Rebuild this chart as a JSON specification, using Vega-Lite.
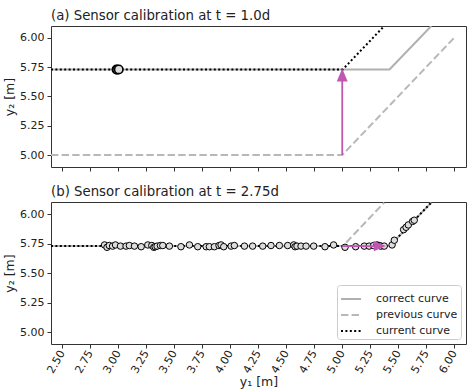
{
  "$schema": "https://vega.github.io/schema/vega-lite/v6.json",
  "padding": {"left": 3, "top": 8, "right": 9, "bottom": 0},
  "config": {
    "font": "DejaVu Sans",
    "view": {"stroke": "#333", "strokeWidth": 1},
    "axis": {"grid": false, "domain": false, "tickColor": "#333", "tickSize": 4, "labelPadding": 3, "labelFontSize": 11, "labelColor": "#222", "titleFontSize": 12.5, "titleFontWeight": "normal", "titleColor": "#222"},
    "title": {"fontSize": 13.3, "fontWeight": "normal", "anchor": "start", "frame": "group", "offset": 4, "color": "#222"},
    "concat": {"spacing": 12}
  },
  "resolve": {"scale": {"color": "independent", "strokeDash": "independent"}, "legend": {"color": "independent", "strokeDash": "independent"}},
  "datasets": {
    "curves_a": [
      {"curve": "correct curve", "o": 1, "x": 2.4, "y": 5.73},
      {"curve": "correct curve", "o": 2, "x": 5.422, "y": 5.73},
      {"curve": "correct curve", "o": 3, "x": 5.795, "y": 6.1},
      {"curve": "previous curve", "o": 1, "x": 2.4, "y": 5.0},
      {"curve": "previous curve", "o": 2, "x": 5.0, "y": 5.0},
      {"curve": "previous curve", "o": 3, "x": 6.0, "y": 6.0},
      {"curve": "current curve", "o": 1, "x": 2.4, "y": 5.73},
      {"curve": "current curve", "o": 2, "x": 5.005, "y": 5.73},
      {"curve": "current curve", "o": 3, "x": 5.375, "y": 6.1}
    ],
    "curves_b": [
      {"curve": "correct curve", "o": 1, "x": 2.4, "y": 5.73},
      {"curve": "correct curve", "o": 2, "x": 5.422, "y": 5.73},
      {"curve": "correct curve", "o": 3, "x": 5.795, "y": 6.1},
      {"curve": "previous curve", "o": 1, "x": 2.4, "y": 5.73},
      {"curve": "previous curve", "o": 2, "x": 5.005, "y": 5.73},
      {"curve": "previous curve", "o": 3, "x": 5.375, "y": 6.1},
      {"curve": "current curve", "o": 1, "x": 2.4, "y": 5.73},
      {"curve": "current curve", "o": 2, "x": 5.422, "y": 5.73},
      {"curve": "current curve", "o": 3, "x": 5.795, "y": 6.1}
    ],
    "pts_a": [
      {"x": 2.985, "y": 5.73},
      {"x": 2.99, "y": 5.728},
      {"x": 3.005, "y": 5.73}
    ],
    "pts_b": [
      {"x": 2.878, "y": 5.74}, {"x": 2.9, "y": 5.72}, {"x": 2.92, "y": 5.735}, {"x": 2.95, "y": 5.73},
      {"x": 2.976, "y": 5.74}, {"x": 3.02, "y": 5.73}, {"x": 3.07, "y": 5.73}, {"x": 3.1, "y": 5.735},
      {"x": 3.145, "y": 5.73}, {"x": 3.205, "y": 5.725}, {"x": 3.264, "y": 5.74}, {"x": 3.3, "y": 5.735},
      {"x": 3.318, "y": 5.72}, {"x": 3.33, "y": 5.725}, {"x": 3.347, "y": 5.73}, {"x": 3.377, "y": 5.735},
      {"x": 3.398, "y": 5.735}, {"x": 3.457, "y": 5.73}, {"x": 3.56, "y": 5.725}, {"x": 3.636, "y": 5.74},
      {"x": 3.71, "y": 5.725}, {"x": 3.785, "y": 5.725}, {"x": 3.814, "y": 5.725}, {"x": 3.859, "y": 5.725},
      {"x": 3.9, "y": 5.735}, {"x": 3.918, "y": 5.74}, {"x": 3.942, "y": 5.725}, {"x": 4.008, "y": 5.73},
      {"x": 4.037, "y": 5.735}, {"x": 4.127, "y": 5.73}, {"x": 4.2, "y": 5.73}, {"x": 4.29, "y": 5.73},
      {"x": 4.364, "y": 5.735}, {"x": 4.439, "y": 5.735}, {"x": 4.513, "y": 5.735}, {"x": 4.567, "y": 5.74},
      {"x": 4.579, "y": 5.725}, {"x": 4.596, "y": 5.73}, {"x": 4.632, "y": 5.73}, {"x": 4.677, "y": 5.73},
      {"x": 4.745, "y": 5.73}, {"x": 4.846, "y": 5.725}, {"x": 4.923, "y": 5.74}, {"x": 5.025, "y": 5.72},
      {"x": 5.12, "y": 5.725}, {"x": 5.197, "y": 5.73}, {"x": 5.24, "y": 5.73}, {"x": 5.28, "y": 5.735},
      {"x": 5.31, "y": 5.74}, {"x": 5.33, "y": 5.735}, {"x": 5.345, "y": 5.73}, {"x": 5.375, "y": 5.73},
      {"x": 5.445, "y": 5.74}, {"x": 5.465, "y": 5.78}, {"x": 5.548, "y": 5.87}, {"x": 5.57, "y": 5.89},
      {"x": 5.59, "y": 5.91}, {"x": 5.628, "y": 5.94}, {"x": 5.643, "y": 5.95}
    ],
    "arrow_a": [{"x": 5.0, "y": 5.0, "y2": 5.64}],
    "head_a": [{"x": 5.0, "y": 5.737}],
    "arrow_b": [{"x": 5.0, "x2": 5.32, "y": 5.73}],
    "head_b": [{"x": 5.39, "y": 5.73}]
  },
  "vconcat": [
    {
      "title": "(a) Sensor calibration at t = 1.0d",
      "width": 415,
      "height": 141,
      "encoding": {
        "x": {"field": "x", "type": "quantitative", "scale": {"domain": [2.4, 6.105], "zero": false, "nice": false}, "axis": {"values": [2.5, 2.75, 3, 3.25, 3.5, 3.75, 4, 4.25, 4.5, 4.75, 5, 5.25, 5.5, 5.75, 6], "labels": false, "title": null, "minExtent": 0}},
        "y": {"field": "y", "type": "quantitative", "scale": {"domain": [4.898, 6.1], "zero": false, "nice": false}, "axis": {"values": [5, 5.25, 5.5, 5.75, 6], "format": ".2f", "title": "y₂ [m]", "titlePadding": 3}}
      },
      "layer": [
        {"data": {"name": "curves_a"}, "transform": [{"filter": "datum.curve === 'correct curve'"}], "mark": {"type": "line", "color": "#b0b0b0", "strokeWidth": 2, "clip": true}, "encoding": {"order": {"field": "o"}}},
        {"data": {"name": "curves_a"}, "transform": [{"filter": "datum.curve === 'previous curve'"}], "mark": {"type": "line", "color": "#b8b8b8", "strokeWidth": 2, "strokeDash": [7.4, 3.2], "clip": true}, "encoding": {"order": {"field": "o"}}},
        {"data": {"name": "curves_a"}, "transform": [{"filter": "datum.curve === 'current curve'"}], "mark": {"type": "line", "color": "#000000", "strokeWidth": 2, "strokeDash": [2, 2.4], "clip": true}, "encoding": {"order": {"field": "o"}}},
        {"data": {"name": "pts_a"}, "mark": {"type": "circle", "fill": "#dddddd", "stroke": "#000", "strokeWidth": 1.6, "size": 70, "opacity": 1}},
        {"data": {"name": "arrow_a"}, "mark": {"type": "rule", "color": "#c157b3", "strokeWidth": 1.8}, "encoding": {"y2": {"field": "y2"}}},
        {"data": {"name": "head_a"}, "mark": {"type": "point", "shape": "M0,0L-0.42,1L0.42,1Z", "filled": true, "color": "#c157b3", "size": 676, "opacity": 1, "strokeWidth": 0}}
      ]
    },
    {
      "title": "(b) Sensor calibration at t = 2.75d",
      "width": 415,
      "height": 142,
      "encoding": {
        "x": {"field": "x", "type": "quantitative", "scale": {"domain": [2.4, 6.105], "zero": false, "nice": false}, "axis": {"values": [2.5, 2.75, 3, 3.25, 3.5, 3.75, 4, 4.25, 4.5, 4.75, 5, 5.25, 5.5, 5.75, 6], "format": ".2f", "labelAngle": -60, "labelAlign": "right", "labelBaseline": "middle", "title": "y₁ [m]", "titlePadding": 1}},
        "y": {"field": "y", "type": "quantitative", "scale": {"domain": [4.898, 6.105], "zero": false, "nice": false}, "axis": {"values": [5, 5.25, 5.5, 5.75, 6], "format": ".2f", "title": "y₂ [m]", "titlePadding": 3}}
      },
      "layer": [
        {"data": {"name": "curves_b"}, "transform": [{"filter": "datum.curve === 'correct curve'"}], "mark": {"type": "line", "strokeWidth": 2, "clip": true},
          "encoding": {"order": {"field": "o"},
            "color": {"datum": "correct curve", "scale": {"domain": ["correct curve", "previous curve", "current curve"], "range": ["#b0b0b0", "#b8b8b8", "#000000"]}, "legend": {"title": null, "orient": "bottom-right", "offset": 5, "symbolType": "stroke", "symbolStrokeWidth": 2, "symbolSize": 400, "labelFontSize": 11, "labelColor": "#222", "fillColor": "white", "strokeColor": "#cccccc", "padding": 3, "cornerRadius": 3, "rowPadding": -5.5, "labelOffset": 14}},
            "strokeDash": {"datum": "correct curve", "scale": {"domain": ["correct curve", "previous curve", "current curve"], "range": [[1, 0], [7.4, 3.2], [2, 2.4]]}, "legend": {"title": null, "orient": "bottom-right", "offset": 5, "symbolType": "stroke", "symbolStrokeWidth": 2, "symbolSize": 400, "labelFontSize": 11, "labelColor": "#222", "fillColor": "white", "strokeColor": "#cccccc", "padding": 3, "cornerRadius": 3, "rowPadding": -5.5, "labelOffset": 14}}}},
        {"data": {"name": "curves_b"}, "transform": [{"filter": "datum.curve === 'previous curve'"}], "mark": {"type": "line", "strokeWidth": 2, "clip": true},
          "encoding": {"order": {"field": "o"}, "color": {"datum": "previous curve"}, "strokeDash": {"datum": "previous curve"}}},
        {"data": {"name": "curves_b"}, "transform": [{"filter": "datum.curve === 'current curve'"}], "mark": {"type": "line", "strokeWidth": 2, "clip": true},
          "encoding": {"order": {"field": "o"}, "color": {"datum": "current curve"}, "strokeDash": {"datum": "current curve"}}},
        {"data": {"name": "pts_b"}, "mark": {"type": "circle", "fill": "#dddddd", "stroke": "#000", "strokeWidth": 1, "size": 42, "opacity": 1}},
        {"data": {"name": "arrow_b"}, "mark": {"type": "rule", "color": "#c157b3", "strokeWidth": 1.8}, "encoding": {"x2": {"field": "x2"}}},
        {"data": {"name": "head_b"}, "mark": {"type": "point", "shape": "M0,0L-1,-0.42L-1,0.42Z", "filled": true, "color": "#c157b3", "size": 576, "opacity": 1, "strokeWidth": 0}}
      ]
    }
  ]
}
